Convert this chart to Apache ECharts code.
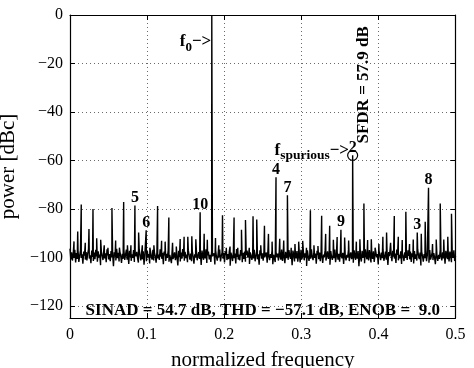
<!DOCTYPE html>
<html>
<head>
<meta charset="utf-8">
<script src="https://cdn.jsdelivr.net/npm/echarts@6/dist/echarts.min.js"></script>
<style>html,body{margin:0;padding:0;background:#fff}#c{width:474px;height:368px}</style>
</head>
<body>
<div id="c"></div>
<script>
// ---- data ----
const xTicks = [0, 0.1, 0.2, 0.3, 0.4, 0.5];
const yTicks = [-120, -100, -80, -60, -40, -20, 0];

// noise floor samples (dBc), evenly spaced bins from 0 to 0.5
const noise = [
-96.4,-100.8,-97.9,-101.3,-98.5,-99.9,-96.9,-102.1,-98.2,-100.6,-97.3,-101.9,-99.4,-97.1,-100.2,-98.7,-102.6,-97.6,-99.3,-100.9,
-97.8,-101.2,-98.4,-96.6,-100.5,-99.1,-102.4,-97.2,-99.8,-101.5,-98.0,-100.7,-96.9,-99.6,-101.8,-97.5,-100.1,-98.8,-103.2,-97.7,
-99.5,-101.1,-97.0,-100.4,-98.3,-102.0,-96.7,-99.2,-100.8,-98.6,-101.6,-97.4,-100.0,-98.9,-103.6,-97.9,-99.7,-101.3,-96.5,-100.3,
-98.1,-101.7,-97.6,-99.4,-102.3,-98.5,-100.6,-97.1,-101.0,-99.0,-96.8,-100.9,-98.2,-102.7,-97.3,-99.9,-101.4,-98.7,-100.2,-97.0,
-101.9,-98.4,-99.6,-97.7,-100.5,-102.1,-96.6,-99.3,-101.2,-98.0,-100.8,-97.5,-103.0,-98.8,-99.1,-101.6,-97.2,-100.1,-98.6,-102.5,
-97.4,-99.8,-100.9,-96.9,-101.3,-98.3,-99.5,-102.2,-97.8,-100.4,-98.9,-101.0,-96.7,-99.7,-100.6,-98.1,-102.8,-97.6,-99.2,-101.5,
-98.5,-100.2,-97.1,-101.8,-99.0,-98.2,-102.4,-96.8,-100.7,-99.4,-97.9,-101.1,-98.6,-100.0,-103.3,-97.3,-99.9,-101.7,-98.0,-100.5,
-96.6,-99.6,-101.4,-97.7,-100.3,-98.8,-102.0,-97.0,-99.1,-100.9,-98.4,-101.6,-97.5,-99.8,-102.6,-98.7,-100.1,-96.9,-101.2,-99.3,
-97.8,-100.6,-98.1,-103.1,-97.2,-99.7,-101.0,-98.5,-100.4,-96.7,-102.3,-99.2,-97.6,-100.8,-98.9,-101.9,-97.4,-99.5,-100.2,-98.3,
-102.9,-97.1,-99.9,-101.3,-98.7,-100.0,-96.8,-101.7,-99.4,-97.9,-100.5,-98.2,-102.1,-97.5,-99.0,-101.1,-98.6,-100.7,-97.3,-103.4,
-98.0,-99.6,-101.5,-97.7,-100.3,-98.4,-102.5,-96.6,-99.8,-100.9,-98.8,-101.2,-97.0,-99.3,-102.0,-98.1,-100.6,-97.6,-101.8,-99.1,
-97.2,-100.1,-98.5,-102.7,-97.9,-99.5,-101.0,-98.2,-100.4,-96.9,-101.6,-99.7,-97.4,-100.8,-98.7,-103.0,-97.1,-99.2,-100.5,-98.3,
-101.4,-97.6,-99.9,-100.7,-98.0,-102.2,-96.7,-99.4,-101.1,-98.6,-100.2,-97.3,-102.8,-98.9,-99.0,-101.9,-97.8,-100.0,-98.4,-101.3,
-97.5,-99.6,-100.9,-96.8,-101.5,-98.1,-99.8,-102.4,-97.7,-100.3,-98.8,-101.0,-97.0,-99.3,-100.6,-98.5,-103.2,-97.2,-99.1,-101.7,
-98.2,-100.4,-97.4,-101.8,-99.2,-98.7,-102.1,-96.9,-100.8,-99.5,-97.6,-101.2,-98.3,-100.1,-103.5,-97.1,-99.7,-101.4,-98.6,-100.5,
-96.7,-99.9,-101.1,-97.9,-100.2,-98.4,-102.6,-97.3,-99.0,-100.7,-98.0,-101.6,-97.7,-99.4,-102.3,-98.8,-100.0,-97.0,-101.3,-99.6,
-97.5,-100.6,-98.2,-103.0,-97.4,-99.8,-101.0,-98.6,-100.3,-96.8,-102.0,-99.1,-97.8,-100.9,-98.5,-101.8,-97.2,-99.3,-100.4,-98.1,
-102.7,-97.6,-99.5,-101.2,-98.9,-100.1,-96.9,-101.5,-99.2,-97.9,-100.7,-98.3,-102.2,-97.1,-99.6,-101.0,-98.7,-100.5,-97.4,-103.6,
-98.4,-99.9,-101.7,-97.3,-100.2,-98.8,-102.4,-96.7,-99.4,-100.8,-98.1,-101.3,-97.0,-99.7,-102.1,-98.5,-100.6,-97.5,-101.9,-99.0,
-97.7,-100.0,-98.6,-102.9,-97.2,-99.3,-101.1,-98.0,-100.3,-96.9,-101.4,-99.8,-97.6,-100.9,-98.2,-103.1,-97.8,-99.5,-100.1,-98.7,
-101.6,-97.3,-99.7,-100.5,-98.4,-102.3,-96.8,-99.0,-101.2,-98.9,-100.4,-97.5,-102.7,-98.1,-99.6,-101.5,-97.9,-100.2,-98.5,-101.0,
-97.1,-99.4,-100.8,-97.6,-101.9,-98.3,-99.9,-102.5,-97.4,-100.6,-98.7,-101.3,-96.7,-99.2,-100.7,-98.0,-103.3,-97.7,-99.5,-101.8,
-98.6,-100.3,-97.2,-101.6,-99.1,-98.5,-102.2,-97.0,-100.9,-99.6,-97.8,-101.1,-98.2,-100.0,-102.8,-97.5,-99.8,-101.4,-98.9,-100.6,
-96.9,-99.7,-101.2,-97.9,-100.4,-98.3,-102.6,-97.3,-99.2,-100.7,-98.1,-101.7,-97.6,-99.5,-102.0,-98.8,-100.2,-97.1,-101.5,-99.4
];

// spur frequencies (normalized) and peak powers (dBc)
const spurFreq = [
0.0052,0.0100,0.0146,0.0198,0.0246,0.0298,0.0346,0.0398,0.0444,0.0492,
0.0544,0.0592,0.0641,0.0696,0.0745,0.0790,0.0842,0.0890,0.0938,0.0988,
0.1036,0.1088,0.1136,0.1188,0.1234,0.1282,0.1330,0.1379,0.1429,0.1480,
0.1528,0.1580,0.1632,0.1688,0.1740,0.1781,0.1839,0.1887,0.1930,0.1978,
0.2027,0.2076,0.2128,0.2176,0.2224,0.2276,0.2325,0.2374,0.2422,0.2474,
0.2522,0.2574,0.2621,0.2672,0.2720,0.2772,0.2820,0.2869,0.2918,0.2966,
0.3018,0.3067,0.3118,0.3164,0.3216,0.3264,0.3316,0.3368,0.3416,0.3465,
0.3514,0.3562,0.3614,0.3666,0.3714,0.3760,0.3812,0.3860,0.3908,0.3957,
0.4006,0.4058,0.4106,0.4158,0.4206,0.4258,0.4309,0.4356,0.4404,0.4452,
0.4504,0.4556,0.4607,0.4650,0.4702,0.4750,0.4802,0.4848,0.4900,0.4948
];
const spurPower = [
-93.4,-89.3,-78.2,-94.0,-88.3,-80.0,-92.1,-92.7,-95.0,-96.0,
-79.6,-93.0,-96.0,-77.1,-95.0,-95.0,-78.6,-89.7,-95.0,-88.8,
-96.0,-95.0,-78.8,-93.1,-93.5,-83.5,-94.0,-95.5,-92.4,-91.5,
-91.5,-91.3,-92.5,-81.4,-90.2,-92.7,0.0,-92.0,-95.0,-82.6,
-96.0,-95.5,-83.5,-96.0,-88.6,-84.6,-96.0,-83.0,-84.4,-95.0,
-86.9,-90.3,-93.5,-66.9,-92.3,-93.0,-74.4,-96.0,-94.5,-93.5,
-93.2,-96.0,-80.6,-95.0,-95.3,-82.8,-90.3,-86.9,-92.7,-91.6,
-88.6,-91.8,-93.0,-57.9,-93.5,-92.5,-77.8,-92.8,-92.5,-96.0,
-94.5,-91.5,-89.7,-94.0,-82.9,-91.5,-92.8,-81.2,-94.5,-92.6,
-89.7,-90.2,-85.3,-71.3,-94.5,-92.6,-77.8,-92.6,-91.5,-82.0
];

// harmonic labels
const harmonicLabels = ['2','3','4','5','6','7','8','9','10'];
const harmonicFreq   = [0.3666,0.4504,0.2672,0.0842,0.0988,0.2820,0.4650,0.3514,0.1688];
const harmonicPower  = [-57.9,-89.7,-66.9,-78.6,-88.8,-74.4,-71.3,-88.6,-81.4];

// annotations
const fundamental = [0.1839, -13.4];
const spurious = [0.3666, -57.9];
const sfdrAnchor = [0.3666, -28.8];
const sfdrText = 'SFDR = 57.9 dB';
const summaryAnchor = [0.25, -121.8];
const summaryText = 'SINAD = 54.7 dB, THD = \u221257.1 dB, ENOB =  9.0';
const xName = 'normalized frequency';
const yName = 'power [dBc]';

// ---- build ----
const FONT = '"Liberation Serif", "Times New Roman", serif';
const pts = noise.map((v, i) => [i * 0.5 / (noise.length - 1), v])
  .concat(spurFreq.map((f, i) => [f, spurPower[i]]))
  .sort((a, b) => a[0] - b[0]);

const grid = '#6a6a6a';
const chart = echarts.init(document.getElementById('c'), null, {renderer: 'canvas'});
const minus = v => (v < 0 ? '\u2212' + (-v) : String(v));
const hidden = {color: 'rgba(0,0,0,0)', opacity: 1};

chart.setOption({
  animation: false,
  backgroundColor: '#fff',
  grid: {left: 70, right: 18.5, top: 15, bottom: 50, containLabel: false, outerBoundsMode: 'none'},
  xAxis: [{
    type: 'value', min: 0, max: 0.5, interval: 0.1,
    axisLine: {onZero: false, lineStyle: {color: '#000', width: 1.2}},
    axisTick: {inside: true, length: 5, lineStyle: {color: '#000'}},
    axisLabel: {color: '#000', fontFamily: FONT, fontSize: 16, margin: 9,
      customValues: xTicks, formatter: v => String(v)},
    splitLine: {show: true, lineStyle: {color: grid, width: 1, type: [1, 3]}},
    name: xName, nameLocation: 'middle', nameGap: 32,
    nameTextStyle: {color: '#000', fontFamily: FONT, fontSize: 21}
  }, {
    type: 'value', position: 'top', min: 0, max: 0.5, interval: 0.1,
    axisLine: {show: true, onZero: false, lineStyle: {color: '#000', width: 1.2}},
    axisTick: {show: true, inside: true, length: 5, lineStyle: {color: '#000'}},
    axisLabel: {show: false}, splitLine: {show: false}
  }],
  yAxis: [{
    type: 'value', min: -125, max: 0,
    axisLine: {show: true, onZero: false, lineStyle: {color: '#000', width: 1.2}},
    axisTick: {show: true, inside: true, length: 5, customValues: yTicks, lineStyle: {color: '#000'}},
    axisLabel: {color: '#000', fontFamily: FONT, fontSize: 16, margin: 7,
      customValues: yTicks, formatter: minus},
    splitLine: {show: true, lineStyle: {color: grid, width: 1, type: [1, 3]}},
    name: yName, nameLocation: 'middle', nameGap: 45,
    nameTextStyle: {color: '#000', fontFamily: FONT, fontSize: 21}
  }, {
    type: 'value', position: 'right', min: -125, max: 0,
    axisLine: {show: true, onZero: false, lineStyle: {color: '#000', width: 1.2}},
    axisTick: {show: true, inside: true, length: 5, customValues: yTicks, lineStyle: {color: '#000'}},
    axisLabel: {show: false}, splitLine: {show: false}
  }],
  series: [{
    type: 'line', data: pts, showSymbol: false, silent: true, z: 2,
    lineStyle: {color: '#000', width: 1.4}
  }, {
    type: 'scatter', silent: true, z: 4, symbolSize: 1, itemStyle: hidden,
    data: harmonicFreq.map((f, i) => [f, harmonicPower[i]]),
    label: {show: true, position: 'top', distance: -1, color: '#000',
      fontFamily: FONT, fontWeight: 'bold', fontSize: 16,
      formatter: p => harmonicLabels[p.dataIndex]}
  }, {
    type: 'scatter', silent: true, z: 5, symbol: 'circle', symbolSize: 10,
    itemStyle: {color: 'rgba(0,0,0,0)', borderColor: '#000', borderWidth: 1.2, opacity: 1},
    data: [spurious],
    label: {show: true, position: 'left', distance: -2, color: '#000',
      formatter: '{f|f}{s|spurious}{a|\u2212>}',
      rich: {
        f: {fontFamily: FONT, fontWeight: 'bold', fontSize: 17, padding: [0, 0, 10, 0], color: '#000'},
        s: {fontFamily: FONT, fontWeight: 'bold', fontSize: 13.5, color: '#000'},
        a: {fontFamily: FONT, fontWeight: 'bold', fontSize: 17, padding: [0, 0, 10, 0], color: '#000'}
      }}
  }, {
    type: 'scatter', silent: true, z: 4, symbolSize: 1, itemStyle: hidden,
    data: [fundamental],
    label: {show: true, position: 'left', distance: 0, color: '#000',
      formatter: '{f|f}{s|0}{a|\u2212>}',
      rich: {
        f: {fontFamily: FONT, fontWeight: 'bold', fontSize: 17, padding: [0, 0, 12, 0], color: '#000'},
        s: {fontFamily: FONT, fontWeight: 'bold', fontSize: 13, color: '#000'},
        a: {fontFamily: FONT, fontWeight: 'bold', fontSize: 17, padding: [0, 0, 12, 0], color: '#000'}
      }}
  }, {
    type: 'scatter', silent: true, z: 4, symbolSize: 1, itemStyle: hidden,
    data: [sfdrAnchor],
    label: {show: true, position: 'inside', rotate: 90, offset: [0, 11], color: '#000',
      fontFamily: FONT, fontWeight: 'bold', fontSize: 17, formatter: sfdrText}
  }, {
    type: 'scatter', silent: true, z: 4, symbolSize: 1, itemStyle: hidden,
    data: [summaryAnchor],
    label: {show: true, position: 'inside', color: '#000',
      fontFamily: FONT, fontWeight: 'bold', fontSize: 17, formatter: summaryText}
  }]
});
</script>
</body>
</html>
